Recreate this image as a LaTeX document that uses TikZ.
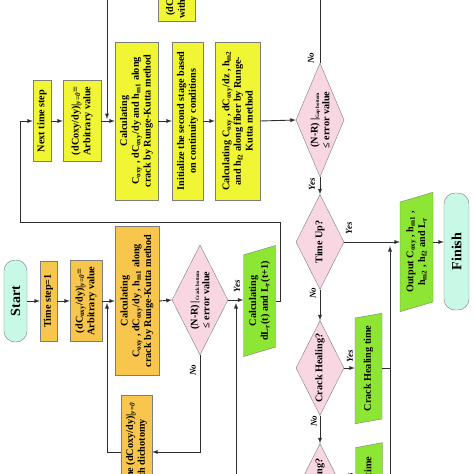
\documentclass[tikz,border=0pt]{standalone}
\usepackage{fontspec}
\setmainfont{Liberation Serif}
\usepackage{tikz}
\usetikzlibrary{shapes.geometric, calc}

\definecolor{boxyellow}{RGB}{240,246,52}
\definecolor{boxorange}{RGB}{248,198,76}
\definecolor{boxpink}{RGB}{249,215,226}
\definecolor{boxgreen}{RGB}{142,230,52}
\definecolor{boxcyan}{RGB}{200,248,230}
\definecolor{edgegray}{RGB}{125,125,125}
\definecolor{linegray}{RGB}{45,45,45}

\newcommand{\ix}[1]{\textsubscript{#1}}

\begin{document}
\begin{tikzpicture}[>=latex, x=1pt, y=-1pt,
    every node/.style={font=\fontsize{10.2}{11.7}\selectfont\bfseries, align=center, rotate=90, inner sep=1pt},
    yellowbox/.style={draw=edgegray, fill=boxyellow, rectangle},
    orangebox/.style={draw=edgegray, fill=boxorange, rectangle},
    decision/.style={draw=edgegray, fill=boxpink, diamond, shape aspect=2, inner sep=0pt},
    iobox/.style={draw=edgegray, fill=boxgreen, trapezium, trapezium left angle=110, trapezium right angle=70, trapezium stretches=true, inner sep=1pt},
    terminal/.style={draw=edgegray, fill=boxcyan, rectangle, rounded corners=11pt, font=\fontsize{14}{16}\selectfont\bfseries},
    flow/.style={draw=linegray, line width=0.9pt},
    answer/.style={font=\fontsize{9}{10}\selectfont\bfseries\itshape, inner sep=0pt}]

    % Khung hình
    \useasboundingbox (0,0) rectangle (474,474);
    \clip (0,0) rectangle (474,474);

    % Giai đoạn thứ nhất (dọc vết nứt)
    \node[terminal, minimum width=82pt, minimum height=23pt] (start) at (15.5,301) {Start};
    \node[orangebox, minimum width=80pt, minimum height=17pt] (step1) at (48.5,301) {Time step=1};
    \node[orangebox, minimum width=81pt, minimum height=32pt] (arblow) at (86,301) {(dC\ix{oxy}/dy)\textbar\ix{\itshape y=0}=\\Arbitrary value};
    \node[orangebox, minimum width=149pt, minimum height=44pt] (calclow) at (137,301) {Calculating\\C\ix{oxy} , dC\ix{oxy}/dy , h\ix{m1} along\\crack by Runge-Kutta method};
    \node[decision, minimum width=110pt, minimum height=56pt] (crackdia) at (200,300) {(N-R)\,\textbar\ix{\tiny Crack bottom}\\≤ error value};
    \node[orangebox, minimum width=142pt, minimum height=31pt] (dichlow) at (136.5,466) {Modifying the (dCoxy/dy)\textbar\ix{\itshape y=0}\\value with dichotomy};
    \node[iobox, minimum width=112pt, minimum height=32pt] (calclr) at (259.5,301) {Calculating\\dL\ix{r}(t) and L\ix{r}(t+1)};

    % Giai đoạn thứ hai (dọc sợi)
    \node[yellowbox, minimum width=81pt, minimum height=18pt] (nextstep) at (42,121) {Next time step};
    \node[yellowbox, minimum width=81pt, minimum height=38pt] (arbup) at (82,121) {(dCoxy/dy)\textbar\ix{\itshape y=0}=\\Arbitrary value};
    \node[yellowbox, minimum width=158pt, minimum height=43pt] (calcup) at (136.5,121) {Calculating\\C\ix{oxy} , dC\ix{oxy}/dy and h\ix{m1} along\\crack by Runge-Kutta method};
    \node[yellowbox, minimum width=158pt, minimum height=31pt] (init) at (187.5,121) {Initialize the second stage based\\on continuity conditions};
    \node[yellowbox, minimum width=158pt, minimum height=45pt] (calcfib) at (237.5,121) {Calculating C\ix{oxy} , dC\ix{oxy}/dz , h\ix{m2}\\and h\ix{f2} along fiber by Runge-\\Kutta method};
    \node[decision, minimum width=114pt, minimum height=48pt] (gapdia) at (320,120) {(N-R)\,\textbar\ix{\tiny Gap bottom}\\≤ error value};
    \node[yellowbox, minimum width=72pt, minimum height=37pt] (dichup) at (176.5,-15) {(dCoxy/dz)\textbar\ix{\itshape z=0}\\with dichotomy};

    % Kiểm tra thời gian và hàn gắn
    \node[decision, minimum width=95pt, minimum height=48pt] (timeup) at (320,242) {Time Up?};
    \node[decision, minimum width=95pt, minimum height=48pt] (healdia) at (320,368) {Crack Healing?};
    \node[decision, minimum width=95pt, minimum height=48pt] (fibdia) at (320,491) {Fiber Healing?};
    \node[iobox, minimum width=111pt, minimum height=27pt] (healtime) at (368.5,368.5) {Crack Healing time};
    \node[iobox, minimum width=111pt, minimum height=27pt] (fibtime) at (369,498) {Fiber Healing time};
    \node[iobox, minimum width=120pt, minimum height=33pt] (output) at (416.5,252) {Output C\ix{oxy} , h\ix{m1} ,\\h\ix{m2} , h\ix{f2} and L\ix{r}};
    \node[terminal, minimum width=117pt, minimum height=25pt] (finish) at (456.5,251.5) {Finish};

    % Điểm nối
    \coordinate (joinlow) at (107,303);
    \coordinate (joinup) at (107,119);
    \coordinate (joinlr) at (236,303);
    \coordinate (joinout) at (390,246);
    \coordinate (loopturn) at (280,222);
    \coordinate (loopleft) at (20,222);

    % Mũi tên
    \draw[flow,->] (start.south) -- (step1.north);
    \draw[flow,->] (step1.south) -- (arblow.north);
    \draw[flow,->] (arblow.south) -- (calclow.north);
    \draw[flow,->] (calclow.south) -- (crackdia.north);
    \draw[flow,->] (crackdia.south) -- (crackdia.south -| calclr.north);
    \draw[flow,->] (crackdia.west) |- (dichlow.south |- 0,452);
    \draw[flow,->] (dichlow.north |- 0,452) -| (joinlow);
    \draw[flow,->] (fibdia.north) -| (joinlr);
    \draw[flow,->] (calclr.south) -| (loopturn) -- (loopleft) |- (nextstep.north);

    \draw[flow,->] (nextstep.south) -- (arbup.north);
    \draw[flow,->] (arbup.south) -- (calcup.north);
    \draw[flow,->] (calcup.south) -- (init.north);
    \draw[flow,->] (init.south) -- (calcfib.north);
    \draw[flow,->] (calcfib.south) -- (gapdia.north);
    \draw[flow,->] (gapdia.east) |- (dichup.south);
    \draw[flow,->] (dichup.north) -| (joinup);
    \draw[flow,->] (gapdia.west) -- (timeup.east);

    \draw[flow,->] (timeup.south) -- (timeup.south -| output.north);
    \draw[flow,->] (timeup.south -| output.south) -- (timeup.south -| finish.north);
    \draw[flow,->] (timeup.west) -- (healdia.east);
    \draw[flow,->] (healdia.south) -- (healdia.south -| healtime.north);
    \draw[flow,->] (healdia.west) -- (fibdia.east);
    \draw[flow,->] (fibdia.south) -- (fibdia.south -| fibtime.north);
    \draw[flow] (healtime.south) -- (healtime.south -| joinout);
    \draw[flow,->] (fibtime.south) -| (joinout);

    % Nhãn Yes / No
    \node[answer] (crackyes) at (237,286) {Yes};
    \node[answer] (crackno) at (193,370) {No};
    \node[answer] (gapno) at (311,58) {No};
    \node[answer] (gapyes) at (312,184) {Yes};
    \node[answer] (timeyes) at (349,228) {Yes};
    \node[answer] (timeno) at (313,293) {No};
    \node[answer] (healyes) at (350,356) {Yes};
    \node[answer] (healno) at (314,421) {No};
    \node[answer] (fibyes) at (350,479) {Yes};
    \node[answer] (fibno) at (284,481) {No};

\end{tikzpicture}
\end{document}
